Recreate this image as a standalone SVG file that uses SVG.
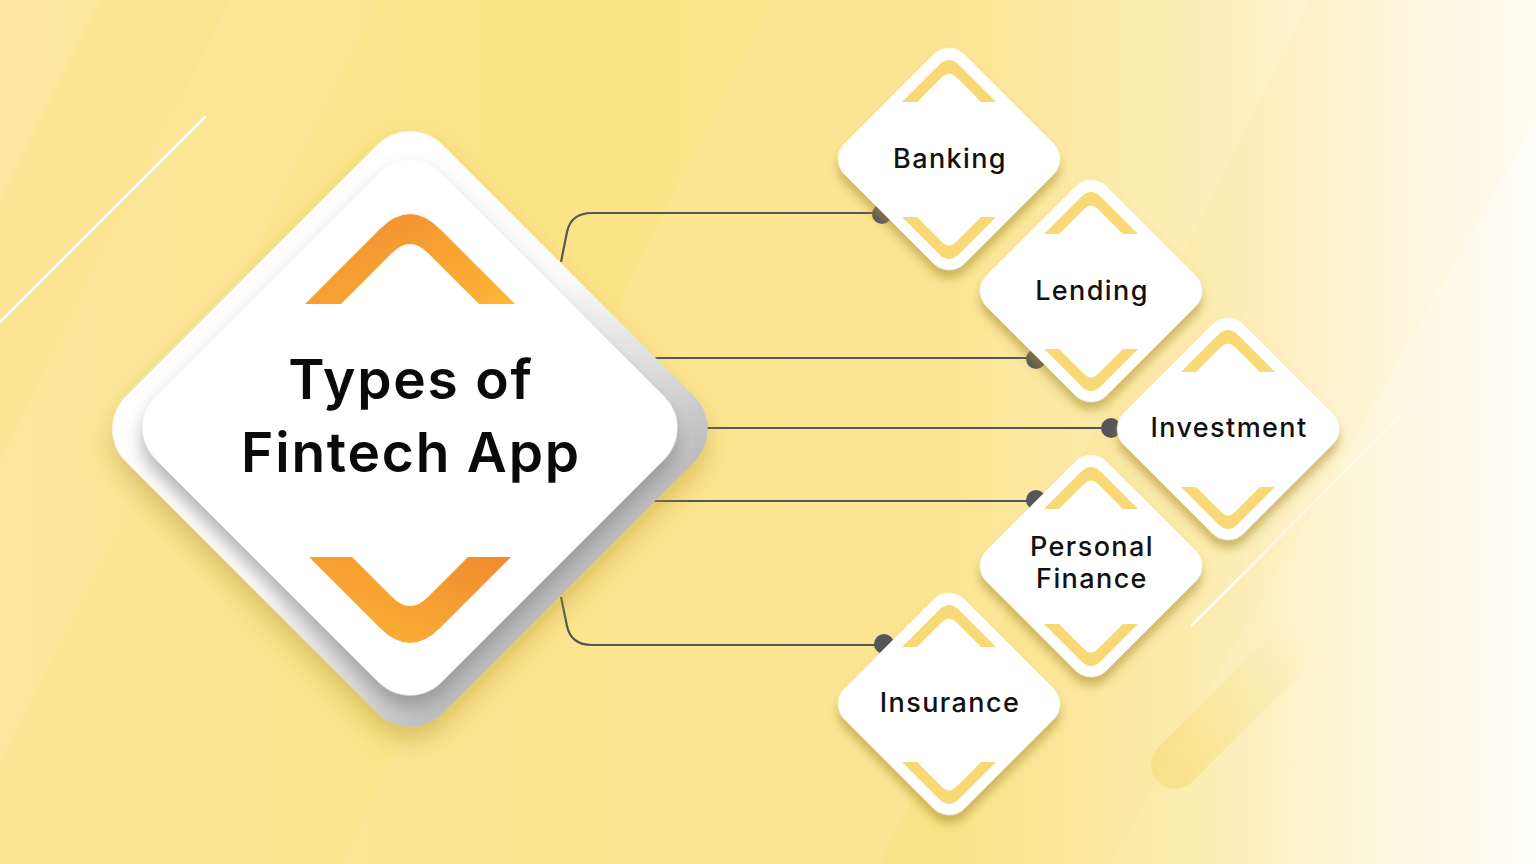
<svg xmlns="http://www.w3.org/2000/svg" width="1536" height="864" viewBox="0 0 1536 864">
  <defs>
    <linearGradient id="bg" x1="0" y1="0" x2="1" y2="0">
      <stop offset="0" stop-color="#FCE497"/>
      <stop offset="0.35" stop-color="#FBE487"/>
      <stop offset="0.62" stop-color="#FBE48C"/>
      <stop offset="0.78" stop-color="#FCEDB2"/>
      <stop offset="0.9" stop-color="#FEF7DE"/>
      <stop offset="1" stop-color="#FFFEF8"/>
    </linearGradient>
    <linearGradient id="wline" gradientUnits="userSpaceOnUse" x1="1192" y1="625" x2="1480" y2="335">
      <stop offset="0" stop-color="#fff" stop-opacity="0.95"/>
      <stop offset="1" stop-color="#fff" stop-opacity="0"/>
    </linearGradient>
    <linearGradient id="pill" gradientUnits="userSpaceOnUse" x1="1175" y1="765" x2="1300" y2="640">
      <stop offset="0" stop-color="#F7D668" stop-opacity="0.45"/>
      <stop offset="1" stop-color="#F7D668" stop-opacity="0"/>
    </linearGradient>
    <linearGradient id="ring" x1="0" y1="0" x2="1" y2="0">
      <stop offset="0" stop-color="#ffffff"/>
      <stop offset="0.5" stop-color="#fbfbfb"/>
      <stop offset="0.85" stop-color="#d6d6d6"/>
      <stop offset="1" stop-color="#bdbdbd"/>
    </linearGradient>
    <linearGradient id="orTop" x1="0" y1="0" x2="1" y2="1">
      <stop offset="0" stop-color="#F28A2E"/>
      <stop offset="1" stop-color="#FBB637"/>
    </linearGradient>
    <linearGradient id="orBot" x1="1" y1="0" x2="0" y2="1">
      <stop offset="0" stop-color="#F28A2E"/>
      <stop offset="1" stop-color="#FBB637"/>
    </linearGradient>
    <filter id="shMain" x="-20%" y="-20%" width="140%" height="140%">
      <feDropShadow dx="10" dy="10" stdDeviation="12" flood-color="#B8952C" flood-opacity="0.45"/>
    </filter>
    <filter id="shInner" x="-20%" y="-20%" width="140%" height="140%">
      <feDropShadow dx="8" dy="8" stdDeviation="9" flood-color="#707070" flood-opacity="0.55"/>
    </filter>
    <filter id="shSmall" x="-25%" y="-25%" width="150%" height="150%">
      <feDropShadow dx="6" dy="6" stdDeviation="5" flood-color="#A88A2A" flood-opacity="0.55"/>
    </filter>
    <path id="chevUp" d="M-47,-57 L-10,-94 Q0,-104 10,-94 L47,-57 L32,-57 L7,-82 Q0,-89 -7,-82 L-32,-57 Z"/>
    <path id="chevDown" d="M-47,58 L-10,95 Q0,105 10,95 L47,58 L32,58 L7,83 Q0,90 -7,83 L-32,58 Z"/>
    <g id="smallDiamond">
      <rect x="-85" y="-85" width="170" height="170" rx="22" transform="rotate(45)" fill="#ffffff" filter="url(#shSmall)"/>
      <use href="#chevUp" fill="#F8D976"/>
      <use href="#chevDown" fill="#F8D976"/>
    </g>
  </defs>
  <style>
    .conn { fill: none; stroke: #55555a; stroke-width: 2.2; }
    .dot { fill: #55555a; }
    .lbl { font-family: Inter, "Noto Sans", "Liberation Sans", sans-serif; font-weight: 500; font-size: 27px; letter-spacing: 1.4px; fill: #111; text-anchor: middle; }
    .title { font-family: Inter, "Noto Sans", "Liberation Sans", sans-serif; font-weight: 600; font-size: 55px; letter-spacing: 1.8px; fill: #0a0a0a; text-anchor: middle; }
  </style>

  <!-- background -->
  <g id="background">
    <rect width="1536" height="864" fill="url(#bg)"/>
    <polygon points="0,0 100,0 0,200" fill="#ffffff" opacity="0.1"/>
    <polygon points="230,0 380,0 -50,864 -200,864" fill="#ffffff" opacity="0.06"/>
    <polygon points="770,0 1310,0 880,864 340,864" fill="#ffffff" opacity="0.07"/>
    <polygon points="1310,0 1536,0 1536,120 1110,864 880,864" fill="#F5D060" opacity="0.04"/>
    <line x1="0" y1="322" x2="205" y2="117" stroke="#ffffff" stroke-width="2.5" stroke-linecap="round" opacity="0.95"/>
    <line x1="1192" y1="625" x2="1480" y2="335" stroke="url(#wline)" stroke-width="2.5" stroke-linecap="round"/>
    <line x1="1175" y1="765" x2="1300" y2="640" stroke="url(#pill)" stroke-width="48" stroke-linecap="round"/>
  </g>

  <!-- connectors -->
  <g id="connectors">
    <path class="conn" d="M561,262 L567,232 Q571,213 592,213 L882,213"/>
    <path class="conn" d="M620,358 L1036,358"/>
    <path class="conn" d="M640,428 L1110,428"/>
    <path class="conn" d="M620,501 L1036,501"/>
    <path class="conn" d="M561,597 L567,626 Q571,645 592,645 L884,645"/>
    <circle class="dot" cx="882" cy="214" r="10"/>
    <circle class="dot" cx="1036" cy="359" r="10"/>
    <circle class="dot" cx="1111" cy="428" r="10"/>
    <circle class="dot" cx="1036" cy="500" r="10"/>
    <circle class="dot" cx="884" cy="644" r="10"/>
  </g>

  <!-- main node -->
  <g id="node-main" transform="translate(410,429)">
    <rect x="-224" y="-224" width="448" height="448" rx="46" transform="rotate(45)" fill="url(#ring)" filter="url(#shMain)"/>
    <rect x="-202" y="-202" width="404" height="404" rx="44" transform="translate(0,-1) rotate(45)" fill="#ffffff" filter="url(#shInner)"/>
    <path d="M-105,-125 L-30,-200 Q0,-230 30,-200 L105,-125 L69,-125 L18,-176 Q0,-194 -18,-176 L-69,-125 Z" fill="url(#orTop)"/>
    <path d="M-101,128 L-30,199 Q0,229 30,199 L101,128 L58,128 L18,168 Q0,186 -18,168 L-58,128 Z" fill="url(#orBot)"/>
    <text class="title" x="1" y="-30">Types of</text>
    <text class="title" x="1" y="43">Fintech App</text>
  </g>

  <!-- small nodes -->
  <g id="node-banking" transform="translate(949,159)">
    <use href="#smallDiamond"/>
    <text class="lbl" x="1" y="9">Banking</text>
  </g>
  <g id="node-lending" transform="translate(1091,291)">
    <use href="#smallDiamond"/>
    <text class="lbl" x="1" y="9">Lending</text>
  </g>
  <g id="node-investment" transform="translate(1228,429)">
    <use href="#smallDiamond"/>
    <text class="lbl" x="1" y="8">Investment</text>
  </g>
  <g id="node-personal-finance" transform="translate(1091,566)">
    <use href="#smallDiamond"/>
    <text class="lbl" x="1" y="-10">Personal</text>
    <text class="lbl" x="1" y="22">Finance</text>
  </g>
  <g id="node-insurance" transform="translate(949,704)">
    <use href="#smallDiamond"/>
    <text class="lbl" x="1" y="8">Insurance</text>
  </g>
</svg>
